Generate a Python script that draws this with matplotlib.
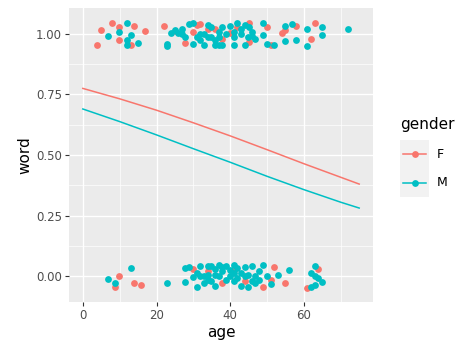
import matplotlib
matplotlib.use("Agg")
import matplotlib.pyplot as plt
from matplotlib.lines import Line2D

# valores (pontos com jitter)
f_age_top = [3.9, 4.9, 8.0, 9.9, 9.9, 13.0, 14.0, 16.9, 21.9, 24.9, 27.8, 29.9, 30.9, 31.9,
             33.9, 35.9, 37.8, 39.9, 41.9, 45.0, 45.0, 50.0, 51.0, 54.0, 55.0, 57.9, 62.0, 62.9]
f_y_top = [0.953, 1.015, 1.043, 1.029, 0.974, 0.953, 1.034, 1.014, 1.034, 1.011, 0.963, 1.007, 1.038, 1.040,
           1.019, 1.022, 0.977, 1.003, 1.027, 1.047, 0.967, 1.029, 0.956, 1.005, 1.018, 1.033, 0.977, 1.043]

m_age_top = [6.8, 9.9, 11.9, 11.9, 13.0, 11.9, 15.0, 22.9, 22.9, 23.9, 24.9, 25.9, 26.9, 27.8,
             28.9, 29.9, 29.9, 30.9, 31.9, 32.9, 33.9, 34.9, 35.9, 36.9, 36.9, 37.8, 37.8, 39.9,
             40.9, 40.9, 41.9, 42.9, 43.9, 43.9, 45.0, 45.9, 46.8, 48.9, 48.9, 49.9, 51.9, 55.0,
             55.0, 56.9, 57.9, 60.9, 60.9, 64.9, 64.9, 71.9,
             26.9, 31.9, 32.9, 33.9, 34.9, 35.9, 36.9, 38.8, 40.9, 42.9, 44.9, 45.9]
m_y_top = [0.990, 1.008, 1.047, 0.974, 0.997, 0.956, 0.964, 0.960, 0.949, 1.003, 1.015, 1.003, 1.022, 0.988,
           1.040, 0.960, 1.043, 0.988, 1.001, 0.953, 1.036, 0.988, 0.953, 1.008, 0.953, 1.029, 0.953, 1.033,
           0.953, 1.008, 1.043, 1.001, 0.953, 1.036, 1.029, 0.990, 0.977, 1.047, 0.997, 0.960, 0.956, 1.033,
           0.971, 1.040, 0.974, 1.021, 0.951, 1.030, 0.995, 1.019,
           1.001, 0.974, 1.001, 0.988, 1.029, 0.974, 0.988, 1.001, 0.988, 1.022, 0.988, 1.008]

f_age_bot = [8.8, 9.9, 13.9, 15.9, 29.9, 33.9, 37.8, 40.9, 43.9, 48.9, 51.0, 52.0, 55.0, 60.9, 63.9]
f_y_bot = [-0.045, 0.0, -0.029, -0.038, 0.029, 0.023, -0.029, 0.026, -0.019, -0.043, -0.018, 0.037,
           -0.029, -0.051, 0.029]

m_age_bot = [6.8, 8.8, 13.0, 22.9, 27.8, 27.8, 28.9, 29.9, 30.9, 31.9, 31.9, 32.9, 33.9, 34.9,
             34.9, 35.9, 36.9, 36.9, 37.8, 38.9, 39.9, 39.9, 40.9, 41.9, 42.9, 42.9, 43.9, 44.9,
             45.9, 45.9, 46.8, 47.9, 48.9, 49.9, 51.0, 52.9, 55.9, 61.9, 62.9, 62.9, 61.9, 63.9,
             64.9, 62.9,
             30.9, 32.9, 33.9, 35.9, 37.8, 38.9, 40.9, 41.9, 43.9, 44.9, 46.8, 47.9, 40.9, 33.9, 35.9]
m_y_bot = [-0.010, -0.029, 0.032, -0.029, 0.032, -0.026, 0.037, -0.005, -0.043, 0.040, -0.001, -0.029,
           0.040, 0.040, -0.022, -0.040, 0.044, -0.001, 0.037, 0.040, -0.001, 0.026, 0.012, 0.033,
           -0.040, 0.012, 0.036, -0.043, -0.019, 0.043, -0.001, 0.019, 0.044, 0.001, -0.032, 0.005,
           0.026, 0.012, 0.043, -0.036, -0.043, -0.008, -0.023, -0.001,
           0.012, -0.001, -0.015, 0.006, 0.019, -0.015, -0.022, -0.008, -0.001, 0.006, -0.029, -0.015,
           0.044, 0.006, 0.029]

# curvas ajustadas
fit_age = [0, 10, 20, 30, 40, 50, 60, 70, 75]
f_fit = [0.775, 0.732, 0.685, 0.633, 0.579, 0.522, 0.464, 0.408, 0.380]
m_fit = [0.690, 0.638, 0.583, 0.526, 0.470, 0.412, 0.357, 0.305, 0.281]

corF = '#F8766D'
corM = '#00BFC4'

fig = plt.figure(figsize=(4.74, 3.55), dpi=100)
ax = fig.add_axes([69/474, 1 - 302/355, (373 - 69)/474, (302 - 8)/355])
ax.set_facecolor('#EBEBEB')

ax.scatter(f_age_top, f_y_top, s=24, color=corF, linewidths=0, zorder=3)
ax.scatter(m_age_top, m_y_top, s=24, color=corM, linewidths=0, zorder=3)
ax.scatter(f_age_bot, f_y_bot, s=24, color=corF, linewidths=0, zorder=3)
ax.scatter(m_age_bot, m_y_bot, s=24, color=corM, linewidths=0, zorder=3)
ax.plot(fit_age, f_fit, color=corF, lw=1.1, zorder=4)
ax.plot(fit_age, m_fit, color=corM, lw=1.1, zorder=4)

ax.set_xlim(-3.75, 78.75)
ax.set_ylim(-0.107, 1.107)
ax.set_xticks([0, 20, 40, 60])
ax.set_xticks([10, 30, 50, 70], minor=True)
ax.set_yticks([0, 0.25, 0.5, 0.75, 1.0])
ax.set_yticklabels(['0.00', '0.25', '0.50', '0.75', '1.00'])
ax.set_yticks([0.125, 0.375, 0.625, 0.875], minor=True)
ax.grid(which='major', color='white', lw=1.0)
ax.grid(which='minor', color='white', lw=0.5)
ax.set_axisbelow(True)
for s in ax.spines.values():
    s.set_visible(False)
ax.tick_params(which='major', length=3, color='#333333', labelcolor='#4D4D4D', labelsize=8.5, pad=2)
ax.tick_params(which='minor', length=0)
ax.set_xlabel('age', fontsize=11, labelpad=2)
ax.set_ylabel('word', fontsize=11, labelpad=3)

# legenda manual
fig.text(400/474, 1 - 124/355, 'gender', fontsize=11, va='center', ha='left')
lax = fig.add_axes([400/474, 1 - 197/355, 29/474, 57/355])
lax.set_facecolor('#F2F2F2')
lax.set_xlim(0, 1)
lax.set_ylim(0, 2)
lax.set_xticks([])
lax.set_yticks([])
for s in lax.spines.values():
    s.set_visible(False)
lax.add_line(Line2D([0.1, 0.9], [1.5, 1.5], color=corF, lw=1.1))
lax.add_line(Line2D([0.1, 0.9], [0.5, 0.5], color=corM, lw=1.1))
lax.scatter([0.5], [1.5], s=24, color=corF, linewidths=0)
lax.scatter([0.5], [0.5], s=24, color=corM, linewidths=0)
fig.text(437/474, 1 - 155/355, 'F', fontsize=9, va='center', ha='left')
fig.text(437/474, 1 - 183/355, 'M', fontsize=9, va='center', ha='left')

fig.savefig('out.png', dpi=100)
